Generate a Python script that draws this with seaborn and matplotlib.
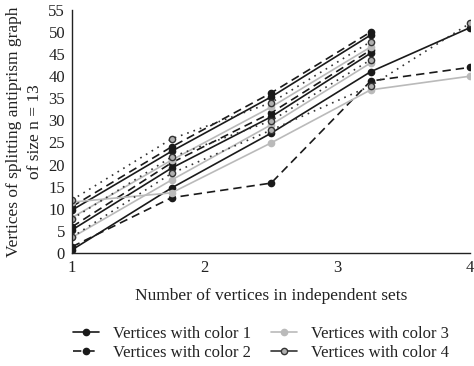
import numpy as np
import pandas as pd
import matplotlib
matplotlib.use("Agg")
import matplotlib.pyplot as plt
import seaborn as sns
from matplotlib.lines import Line2D

# ── Data ────────────────────────────────────────────────
x_short = [1, 1.75, 2.5, 3.25]
x_long = [1, 1.75, 2.5, 3.25, 4]

# color 1 (black solid)
c1_a = [9.7, 23.0, 35.3, 49.3]
c1_b = [5.2, 19.2, 30.8, 45.2]
c1_c = [0.7, 14.7, 27.1, 41.0, 51.0]
# color 2 (black dashed)
c2_a = [10.5, 24.0, 36.2, 50.0]
c2_b = [5.9, 20.4, 31.7, 45.9]
c2_c = [1.4, 12.5, 15.8, 38.9, 42.0]
# color 3 (light grey)
c3_a = [8.0, 21.0, 33.0, 46.6]
c3_b = [3.5, 16.5, 29.0, 43.0]
c3_c = [11.5, 13.6, 24.9, 36.9, 40.0]
# color 4 (dotted, grey open marker)
c4_a = [12.0, 25.8, 34.0, 47.8]
c4_b = [7.7, 21.7, 29.9, 43.7]
c4_c = [3.6, 18.0, 27.8, 37.8, 52.0]

labels = ["Vertices with color 1", "Vertices with color 2",
          "Vertices with color 3", "Vertices with color 4"]

sns.set_style("white")
plt.rcParams["font.family"] = ["Liberation Serif", "DejaVu Serif"]

fig = plt.figure(figsize=(4.74, 3.66), dpi=100)
ax = fig.add_axes([0.152, 0.309, 0.84, 0.664])

styles = {
    1: dict(color="#1a1a1a", linestyle="-", marker="o", markerfacecolor="#1a1a1a",
            markeredgecolor="#1a1a1a"),
    2: dict(color="#1a1a1a", linestyle=(0, (5, 3)), marker="o", markerfacecolor="#1a1a1a",
            markeredgecolor="#1a1a1a"),
    3: dict(color="#bababa", linestyle="-", marker="o", markerfacecolor="#bababa",
            markeredgecolor="#bababa"),
    4: dict(color="#333333", linestyle=(0, (1, 3)), marker="o", markerfacecolor="#b0b0b0",
            markeredgecolor="#333333"),
}

series = [
    (1, x_short, c1_a), (1, x_short, c1_b), (1, x_long, c1_c),
    (2, x_short, c2_a), (2, x_short, c2_b), (2, x_long, c2_c),
    (3, x_short, c3_a), (3, x_short, c3_b), (3, x_long, c3_c),
    (4, x_short, c4_a), (4, x_short, c4_b), (4, x_long, c4_c),
]

for k, xs, ys in series:
    df = pd.DataFrame({"x": xs, "y": ys})
    sns.lineplot(data=df, x="x", y="y", ax=ax, linewidth=1.2, markersize=4.5,
                 markeredgewidth=1.0, **styles[k])

ax.set_xlim(1, 4)
ax.set_ylim(0, 55)
ax.set_xticks([1, 2, 3, 4])
ax.set_yticks(range(0, 56, 5))
ax.tick_params(axis="both", length=0, labelsize=12, colors="#222222", pad=5)
for s in ["top", "right"]:
    ax.spines[s].set_visible(False)
for s in ["left", "bottom"]:
    ax.spines[s].set_color("#222222")
    ax.spines[s].set_linewidth(1.0)

ax.set_xlabel("Number of vertices in independent sets", fontsize=12.5, color="#222222",
              labelpad=9)
ax.set_ylabel("Vertices of splitting antiprism graph\nof size n = 13", fontsize=12.5,
              color="#222222", labelpad=4, linespacing=1.4)

handles = []
for k in [1, 2, 3, 4]:
    st = dict(styles[k])
    if k == 4:
        st["linestyle"] = "-"
    handles.append(Line2D([], [], linewidth=1.2, markersize=4.5, markeredgewidth=1.0, **st))

fig.legend(handles, labels, ncol=2, loc="center", bbox_to_anchor=(0.55, 0.062),
           frameon=False, fontsize=12, handlelength=1.6, columnspacing=1.2,
           handletextpad=0.8, labelspacing=0.2, labelcolor="#222222")

fig.savefig("out.png", dpi=100)
